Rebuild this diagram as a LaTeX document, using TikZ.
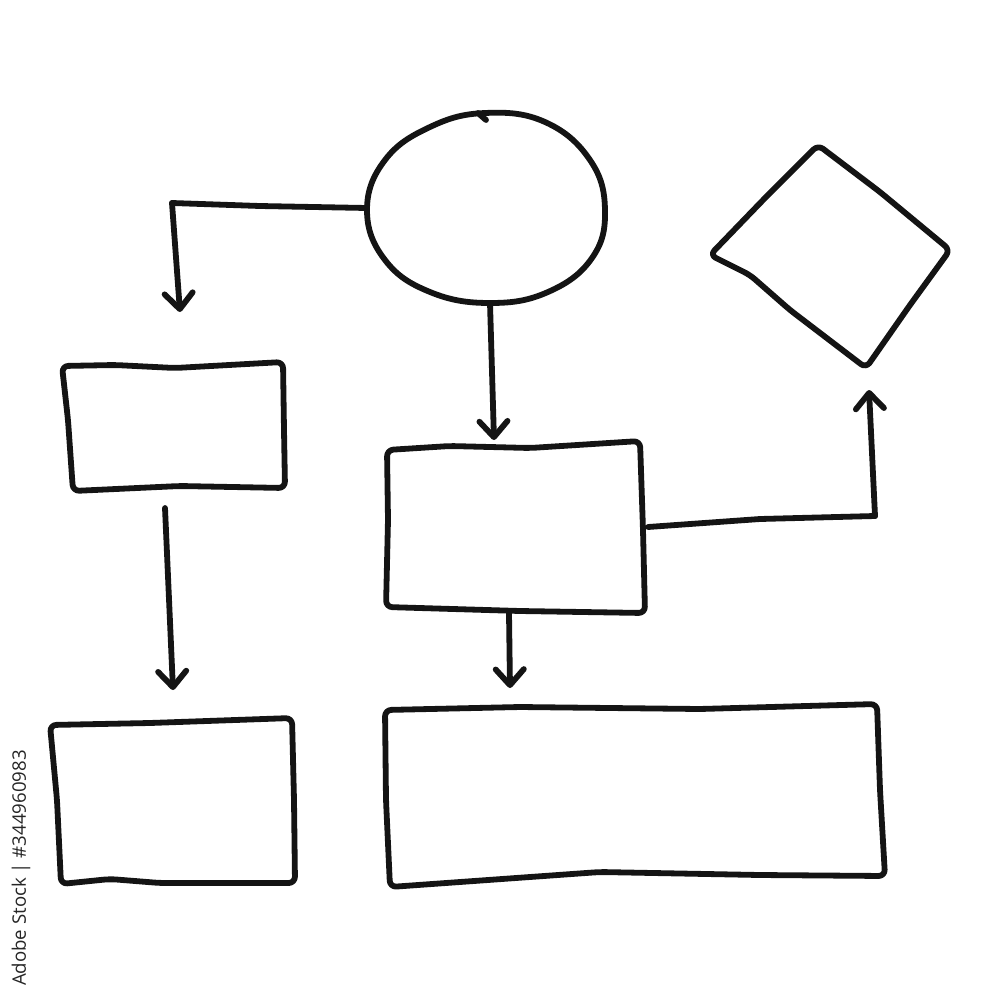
\documentclass[tikz,border=0pt]{standalone}
\usepackage{fontspec}
\newfontfamily\credfont{Open Sans}
\usetikzlibrary{arrows.meta}
\tikzset{
  ink/.style={line width=1.65pt, line cap=round, line join=round, draw=black!92},
  shapeink/.style={ink, rounded corners=1.8pt},
  arr/.style={ink, -{Straight Barb[length=4.5pt,width=8pt,line width=1.65pt,round]}},
  credit/.style={font=\credfont\fontsize{5.3pt}{6pt}\selectfont, text=black!85, rotate=90, inner sep=0pt}
}
\begin{document}
\begin{tikzpicture}[x=0.01cm,y=-0.01cm]
\useasboundingbox (0,0) rectangle (1000,1000);
\fill[white] (0,0) rectangle (1000,1000);

% --- anchor coordinates ---
\coordinate (ellW) at (367,208);
\coordinate (ellS) at (490,303);
\coordinate (c1) at (172,203);
\coordinate (t1) at (180,312);
\coordinate (b1S) at (165,508);
\coordinate (t3) at (173,690);
\coordinate (t2) at (494,440);
\coordinate (b2E) at (648,527);
\coordinate (c2) at (875,516);
\coordinate (tD) at (869,390);
\coordinate (b2S) at (509,613);
\coordinate (t4) at (510,688);

% --- ellipse (hand drawn) ---
\draw[ink] plot[smooth cycle, tension=0.7] coordinates {
 (367,210) (385,160) (430,127) (485,113) (545,122) (590,160)
 (605,210) (592,258) (548,292) (490,303) (430,292) (385,260)};
\draw[ink] (478,113) -- (486,120);

% --- diamond ---
\draw[shapeink] (818,145) -- (880,192) -- (950,250) -- (910,305) -- (866,368)
  -- (790,310) -- (750,275) -- (710,255) -- (765,198) -- cycle;

% --- box 1 ---
\draw[shapeink] (62,366) -- (115,365) -- (175,368) -- (283,362) -- (284,430)
  -- (285,488) -- (180,486) -- (73,491) -- (68,420) -- cycle;

% --- box 2 ---
\draw[shapeink] (387,450) -- (450,446) -- (530,448) -- (640,441) -- (643,530)
  -- (645,613) -- (520,611) -- (386,607) -- (388,520) -- cycle;

% --- box 3 ---
\draw[shapeink] (50,725) -- (150,723) -- (292,718) -- (294,800) -- (295,883)
  -- (160,883) -- (110,879) -- (61,884) -- (57,800) -- cycle;

% --- box 4 ---
\draw[shapeink] (385,710) -- (520,707) -- (700,709) -- (877,704) -- (880,790)
  -- (885,876) -- (760,875) -- (600,872) -- (390,887) -- (386,800) -- cycle;

% --- connectors ---
\draw[ink] (ellW) -- (260,206) -- (c1);
\draw[arr] (c1) -- (t1);
\draw[arr] (ellS) -- (t2);
\draw[arr] (b1S) -- (t3);
\draw[ink] (b2E) -- (760,519) -- (c2);
\draw[arr] (c2) -- (tD);
\draw[arr] (b2S) -- (t4);

% --- credit ---
\node[credit] (cred) at (21,868) {Adobe Stock | \#344960983};
\end{tikzpicture}
\end{document}
